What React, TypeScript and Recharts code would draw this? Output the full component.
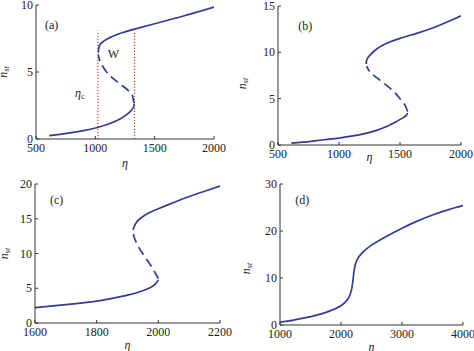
import React from "react";
import { LineChart, Line, XAxis, YAxis, ReferenceLine, ReferenceDot } from "recharts";

type Pt = { eta: number; n: number };

// panel (a)
const A_LOW: Pt[] = [
  { eta: 612, n: 0.25 }, { eta: 700, n: 0.35 }, { eta: 800, n: 0.47 }, { eta: 900, n: 0.62 },
  { eta: 1000, n: 0.82 }, { eta: 1100, n: 1.08 }, { eta: 1200, n: 1.45 }, { eta: 1260, n: 1.8 },
  { eta: 1300, n: 2.1 }, { eta: 1320, n: 2.35 }, { eta: 1329, n: 2.6 },
];
const A_MID: Pt[] = [
  { eta: 1329, n: 2.65 }, { eta: 1318, n: 3.0 }, { eta: 1292, n: 3.5 }, { eta: 1180, n: 4.3 },
  { eta: 1095, n: 5.0 }, { eta: 1040, n: 5.8 }, { eta: 1026, n: 6.3 },
];
const A_UP: Pt[] = [
  { eta: 1025, n: 6.45 }, { eta: 1032, n: 6.9 }, { eta: 1050, n: 7.15 }, { eta: 1095, n: 7.45 },
  { eta: 1200, n: 7.85 }, { eta: 1330, n: 8.2 }, { eta: 1500, n: 8.6 }, { eta: 1750, n: 9.2 },
  { eta: 2000, n: 9.85 },
];
const A_CRIT = [1022, 1330];
const A_CRIT_TOP = 8.1;

// panel (b)
const B_LOW: Pt[] = [
  { eta: 609, n: 0.2 }, { eta: 700, n: 0.3 }, { eta: 800, n: 0.45 }, { eta: 900, n: 0.6 },
  { eta: 1000, n: 0.75 }, { eta: 1100, n: 0.95 }, { eta: 1200, n: 1.2 }, { eta: 1300, n: 1.55 },
  { eta: 1400, n: 2.05 }, { eta: 1460, n: 2.45 }, { eta: 1520, n: 2.9 }, { eta: 1552, n: 3.2 },
  { eta: 1562, n: 3.45 },
];
const B_MID: Pt[] = [
  { eta: 1562, n: 3.6 }, { eta: 1545, n: 4.2 }, { eta: 1500, n: 5.0 }, { eta: 1420, n: 6.1 },
  { eta: 1295, n: 7.4 }, { eta: 1248, n: 8.0 }, { eta: 1226, n: 8.5 },
];
const B_UP: Pt[] = [
  { eta: 1224, n: 8.75 }, { eta: 1225, n: 9.05 }, { eta: 1233, n: 9.35 }, { eta: 1254, n: 9.7 },
  { eta: 1309, n: 10.36 }, { eta: 1391, n: 10.97 }, { eta: 1500, n: 11.5 }, { eta: 1637, n: 12.05 },
  { eta: 1773, n: 12.65 }, { eta: 1910, n: 13.4 }, { eta: 2000, n: 13.95 },
];

// panel (c)
const C_LOW: Pt[] = [
  { eta: 1600, n: 2.2 }, { eta: 1700, n: 2.65 }, { eta: 1800, n: 3.15 }, { eta: 1850, n: 3.55 },
  { eta: 1900, n: 4.0 }, { eta: 1940, n: 4.5 }, { eta: 1970, n: 5.0 }, { eta: 1990, n: 5.6 },
  { eta: 2000, n: 6.2 },
];
const C_MID: Pt[] = [
  { eta: 2000, n: 6.4 }, { eta: 1990, n: 7.2 }, { eta: 1975, n: 8.3 }, { eta: 1955, n: 9.6 },
  { eta: 1935, n: 11.0 }, { eta: 1922, n: 12.3 }, { eta: 1918, n: 13.2 },
];
const C_UP: Pt[] = [
  { eta: 1918, n: 13.4 }, { eta: 1925, n: 14.2 }, { eta: 1940, n: 15.0 }, { eta: 1970, n: 15.85 },
  { eta: 2000, n: 16.45 }, { eta: 2050, n: 17.35 }, { eta: 2100, n: 18.2 }, { eta: 2150, n: 18.95 },
  { eta: 2200, n: 19.7 },
];

// panel (d)
const D_CURVE: Pt[] = [
  { eta: 1000, n: 0.6 }, { eta: 1200, n: 1.0 }, { eta: 1400, n: 1.5 }, { eta: 1600, n: 2.1 },
  { eta: 1800, n: 2.9 }, { eta: 2000, n: 4.1 }, { eta: 2100, n: 5.3 }, { eta: 2150, n: 6.5 },
  { eta: 2180, n: 8.0 }, { eta: 2200, n: 10.0 }, { eta: 2220, n: 12.0 }, { eta: 2260, n: 13.8 },
  { eta: 2350, n: 15.4 }, { eta: 2500, n: 17.0 }, { eta: 2750, n: 18.9 }, { eta: 3000, n: 20.6 },
  { eta: 3250, n: 22.1 }, { eta: 3500, n: 23.4 }, { eta: 3750, n: 24.5 }, { eta: 4000, n: 25.4 },
];

const FONT = "'Liberation Serif', 'DejaVu Serif', serif";
const BLUE = "#2f3d96";
const INK = "#333";
const TXT = "#222";

function XTick({ x, y, payload }: any) {
  return (
    <g>
      <line x1={x} x2={x} y1={y} y2={y - 3} stroke={INK} />
      <text x={x} y={y + 13} textAnchor="middle" fontSize={12} fontFamily={FONT} fill={TXT}>
        {payload.value}
      </text>
    </g>
  );
}
function YTick({ x, y, payload }: any) {
  return (
    <g>
      <line x1={x} x2={x + 3} y1={y} y2={y} stroke={INK} />
      <text x={x - 3} y={y + 4} textAnchor="end" fontSize={12} fontFamily={FONT} fill={TXT}>
        {payload.value}
      </text>
    </g>
  );
}
const TopTick = ({ x, y }: any) => <line x1={x} x2={x} y1={y} y2={y + 3} stroke={INK} />;
const RightTick = ({ x, y }: any) => <line x1={x} x2={x - 3} y1={y} y2={y} stroke={INK} />;

type Branch = { data: Pt[]; dashed?: boolean };

interface PanelProps {
  tag: string;
  tagAt: Pt;
  left: number; top: number; width: number; height: number;
  margin: { top: number; right: number };
  yw: number; xh: number;
  xDomain: [number, number]; xTicks: number[];
  yDomain: [number, number]; yTicks: number[];
  branches: Branch[];
  etaDy: number; nX: number; nDy: number;
  children?: React.ReactNode;
}

function Panel(p: PanelProps) {
  const etaLabel = (lp: any) => {
    const vb = lp.viewBox;
    return (
      <text x={vb.x + vb.width / 2} y={vb.y + p.etaDy} textAnchor="middle" fontSize={12}
        fontStyle="italic" fontFamily={FONT} fill={TXT}>η</text>
    );
  };
  const nLabel = (lp: any) => {
    const vb = lp.viewBox;
    const cy = vb.y + vb.height / 2 + p.nDy;
    return (
      <text x={p.nX + 4} y={cy} transform={`rotate(-90 ${p.nX + 4} ${cy})`} textAnchor="middle"
        fontSize={12} fontStyle="italic" fontFamily={FONT} fill={TXT}>
        n<tspan fontSize={8} dy={2}>st</tspan>
      </text>
    );
  };
  return (
    <div style={{ position: "absolute", left: p.left, top: p.top }}>
      <LineChart width={p.width} height={p.height}
        margin={{ top: p.margin.top, right: p.margin.right, left: 0, bottom: 0 }}>
        <XAxis xAxisId={0} dataKey="eta" type="number" domain={p.xDomain} ticks={p.xTicks}
          interval={0} height={p.xh} tickSize={0} tickMargin={0} tick={<XTick />}
          axisLine={{ stroke: INK }} allowDataOverflow label={etaLabel} />
        <XAxis xAxisId="top" orientation="top" dataKey="eta" type="number" domain={p.xDomain}
          ticks={p.xTicks} interval={0} height={0} tickSize={0} tickMargin={0} tick={<TopTick />}
          axisLine={{ stroke: INK }} allowDataOverflow />
        <YAxis yAxisId={0} type="number" domain={p.yDomain} ticks={p.yTicks} interval={0}
          width={p.yw} tickSize={0} tickMargin={0} tick={<YTick />} axisLine={{ stroke: INK }}
          allowDataOverflow label={nLabel} />
        <YAxis yAxisId="right" orientation="right" type="number" domain={p.yDomain}
          ticks={p.yTicks} interval={0} width={0} tickSize={0} tickMargin={0} tick={<RightTick />}
          axisLine={{ stroke: INK }} allowDataOverflow />
        {p.children}
        {p.branches.map((b, i) => (
          <Line key={i} data={b.data} dataKey="n" type="natural" stroke={BLUE} strokeWidth={1.7}
            strokeDasharray={b.dashed ? "9 5" : undefined} dot={false} activeDot={false}
            isAnimationActive={false} />
        ))}
        <ReferenceDot x={p.tagAt.eta} y={p.tagAt.n} r={0} fill="none" stroke="none"
          label={{ value: p.tag, position: "center", fontSize: 12, fontFamily: FONT, fill: TXT }} />
      </LineChart>
    </div>
  );
}

const etaC = (lp: any) => {
  const vb = lp.viewBox;
  const cx = vb.x + vb.width / 2;
  const cy = vb.y + vb.height / 2;
  return (
    <text x={cx - 5} y={cy + 4} fontSize={12} fontStyle="italic" fontFamily={FONT} fill={TXT}>
      η<tspan fontSize={8} dy={2} fontStyle="normal">c</tspan>
    </text>
  );
};

export default function App() {
  return (
    <div style={{ position: "absolute", left: 0, top: 0, width: 474, height: 351, background: "#fff" }}>
      <Panel tag="(a)" tagAt={{ eta: 632, n: 8.5 }} left={0} top={0} width={237} height={175}
        margin={{ top: 5, right: 23 }} yw={36} xh={36}
        xDomain={[500, 2000]} xTicks={[500, 1000, 1500, 2000]}
        yDomain={[0, 10]} yTicks={[0, 5, 10]}
        branches={[{ data: A_LOW }, { data: A_MID, dashed: true }, { data: A_UP }]}
        etaDy={28} nX={3} nDy={0}>
        {A_CRIT.map((e) => (
          <ReferenceLine key={e} segment={[{ x: e, y: 0 }, { x: e, y: A_CRIT_TOP }]}
            stroke="#e0393e" strokeWidth={1.2} strokeDasharray="1.2 1.8" />
        ))}
        <ReferenceDot x={1152} y={6.4} r={0} fill="none" stroke="none"
          label={{ value: "W", position: "center", fontSize: 12, fontFamily: FONT, fill: TXT }} />
        <ReferenceDot x={871} y={3.4} r={0} fill="none" stroke="none" label={etaC} />
      </Panel>
      <Panel tag="(b)" tagAt={{ eta: 724, n: 12.9 }} left={237} top={0} width={237} height={175}
        margin={{ top: 6, right: 13 }} yw={41} xh={30}
        xDomain={[500, 2000]} xTicks={[500, 1000, 1500, 2000]}
        yDomain={[0, 15]} yTicks={[0, 5, 10, 15]}
        branches={[{ data: B_LOW }, { data: B_MID, dashed: true }, { data: B_UP }]}
        etaDy={16} nX={5} nDy={8} />
      <Panel tag="(c)" tagAt={{ eta: 1670, n: 17.7 }} left={0} top={175} width={237} height={176}
        margin={{ top: 9, right: 17 }} yw={35} xh={28}
        xDomain={[1600, 2200]} xTicks={[1600, 1800, 2000, 2200]}
        yDomain={[0, 20]} yTicks={[0, 5, 10, 15, 20]}
        branches={[{ data: C_LOW }, { data: C_MID, dashed: true }, { data: C_UP }]}
        etaDy={26} nX={4} nDy={0} />
      <Panel tag="(d)" tagAt={{ eta: 1365, n: 26.6 }} left={237} top={175} width={237} height={176}
        margin={{ top: 9, right: 11 }} yw={43} xh={26}
        xDomain={[1000, 4000]} xTicks={[1000, 2000, 3000, 4000]}
        yDomain={[0, 30]} yTicks={[0, 10, 20, 30]}
        branches={[{ data: D_CURVE }]}
        etaDy={26} nX={9} nDy={14} />
    </div>
  );
}
